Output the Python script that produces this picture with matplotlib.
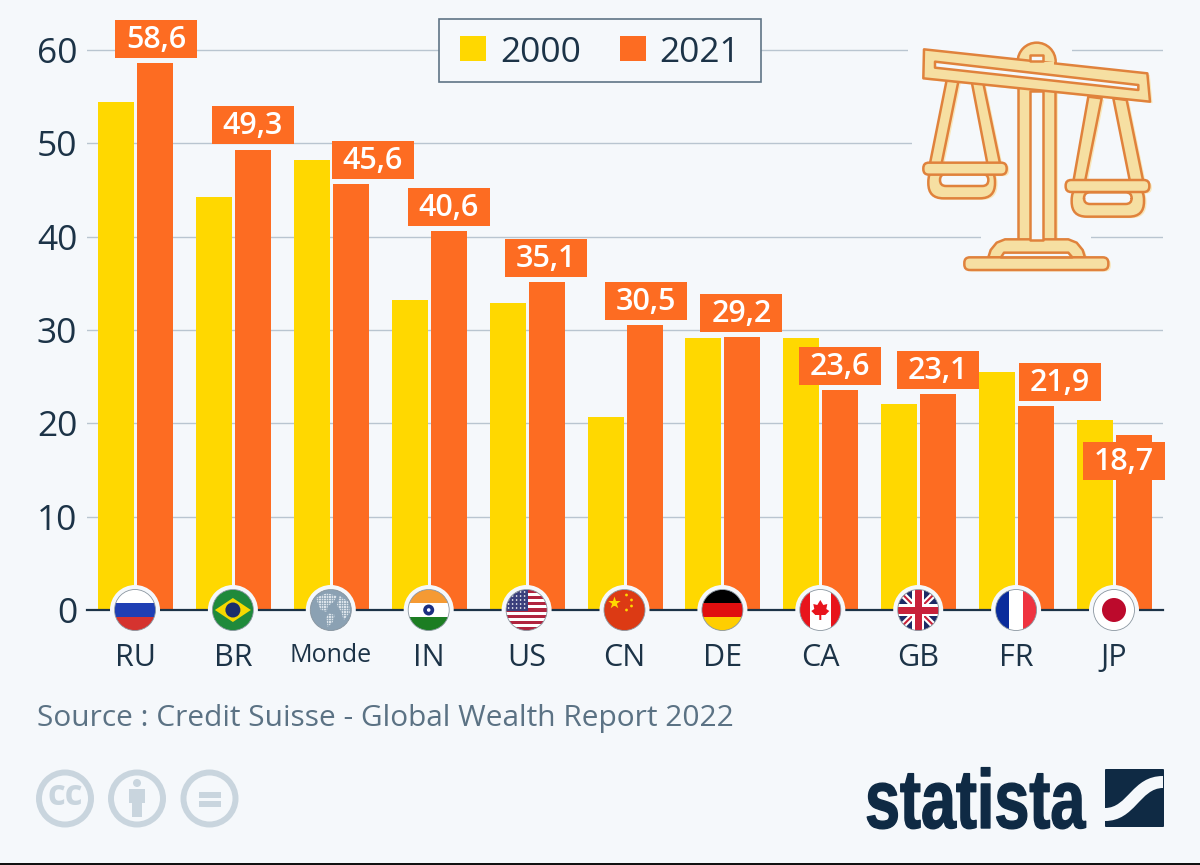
import numpy as np
import matplotlib
matplotlib.use("Agg")
import matplotlib.pyplot as plt
from matplotlib.patches import Rectangle, Circle, Polygon, FancyBboxPatch, PathPatch
from matplotlib.path import Path
from matplotlib.patheffects import AbstractPathEffect
from matplotlib.transforms import Affine2D

# --- DATA ---
categories = ["RU", "BR", "Monde", "IN", "US", "CN", "DE", "CA", "GB", "FR", "JP"]
values_2000 = [54.4, 44.2, 48.2, 33.2, 32.9, 20.7, 29.1, 29.1, 22.1, 25.5, 20.4]
values_2021 = [58.6, 49.3, 45.6, 40.6, 35.1, 30.5, 29.2, 23.6, 23.1, 21.9, 18.7]
yticks = [0, 10, 20, 30, 40, 50, 60]
series_names = ["2000", "2021"]
source_text = "Source : Credit Suisse - Global Wealth Report 2022"

# label shifts in pixels (the labels dodge the neighbouring bars)
label_dx = [1, 0, 22, 0, -1, 1, -1, 0, 0, 24, -10]
label_dy = [5, 6, 5, 5, 5, 5, 5, 5, 5, 5, -45]

# --- STYLE ---
BG = "#f5f8fb"
YELLOW = "#ffd800"
ORANGE = "#fd6c22"
DARK = "#1c3347"
GRID = "#b9c5d0"
SOURCE = "#5b7284"
NAVY = "#0f2a44"
CC = "#c9d5de"
PALE = "#f6dfa2"
LINE = "#e0823c"
plt.rcParams["font.family"] = ["Open Sans", "DejaVu Sans"]

fig = plt.figure(figsize=(12, 8.65), dpi=100, facecolor=BG)
PX_X, PX_Y = 97.9, 560 / 60.0
ax = fig.add_axes([87 / 1200, (865 - 610) / 865, 1076 / 1200, 590 / 865], facecolor="none")
ax.set_xlim((87 - 135) / PX_X, (1163 - 135) / PX_X)
ax.set_ylim(0, 590 / PX_Y)

x = np.arange(len(categories))
ax.bar(x - 19 / PX_X, values_2000, width=36 / PX_X, color=YELLOW, zorder=2)
ax.bar(x + 20 / PX_X, values_2021, width=36 / PX_X, color=ORANGE, zorder=2)

for i, v in enumerate(values_2021):
    cx = i + (20 + label_dx[i]) / PX_X
    bottom = v + label_dy[i] / PX_Y
    h = 38 / PX_Y
    ax.add_patch(Rectangle((cx - 41 / PX_X, bottom), 82 / PX_X, h, color=ORANGE, zorder=4, clip_on=False, lw=0))
    ax.text(cx, bottom + h / 2 - 0.1, f"{v:.1f}".replace(".", ","), color="white", fontsize=22,
            fontweight="semibold", ha="center", va="center", zorder=5)

ax.set_yticks(yticks)
ax.set_xticks(x)
ax.set_xticklabels(categories)
ax.tick_params(axis="y", length=0, labelsize=25.5, labelcolor=DARK, pad=7)
ax.tick_params(axis="x", length=0, labelsize=22, labelcolor=DARK, pad=24)
ax.get_xticklabels()[2].set_fontsize(18)
ax.grid(axis="y", color=GRID, lw=1.0, zorder=1)
ax.set_axisbelow(True)
for s in ["top", "right", "left"]:
    ax.spines[s].set_visible(False)
ax.spines["bottom"].set_color(DARK)
ax.spines["bottom"].set_linewidth(1.6)
ax.spines["bottom"].set_zorder(3)

# --- OVERLAY IN PIXELS ---
ov = fig.add_axes([0, 0, 1, 1], facecolor="none", zorder=5)
ov.set_xlim(0, 1200)
ov.set_ylim(865, 0)
ov.axis("off")

# legend
ov.add_patch(Rectangle((438.5, 18.5), 322, 63, fc=BG, ec="#5f7486", lw=1.2))
ov.add_patch(Rectangle((460, 36), 26, 25, fc=YELLOW, lw=0))
ov.add_patch(Rectangle((620, 36), 26, 25, fc=ORANGE, lw=0))
ov.text(500, 49, series_names[0], fontsize=25.5, color=DARK, va="center_baseline")
ov.text(659, 49, series_names[1], fontsize=25.5, color=DARK, va="center_baseline")

# gridline gaps around the scales icon
for gx0, gx1, gy in [(908, 1072, 50), (912, 1170, 143), (981, 1091, 237)]:
    ov.add_patch(Rectangle((gx0, gy - 4), gx1 - gx0, 8, fc=BG, lw=0))


def shape(pts, fc=PALE, z=6):
    # zoomed crop coordinates to figure pixels
    pts = [(900 + a / 3, 20 + b / 3) for a, b in pts]
    if fc == PALE:
        ov.add_patch(Polygon([(a + 2.5, b + 1.5) for a, b in pts], closed=True, fc="#f8e7bc", lw=0, zorder=5))
    ov.add_patch(Polygon(pts, closed=True, fc=fc, ec=LINE, lw=1.8, joinstyle="round", zorder=z))


def rbox(a0, b0, a1, b1, r=8, fc=PALE, z=6):
    xy = (900 + a0 / 3 + r, 20 + b0 / 3 + r)
    w, h = (a1 - a0) / 3 - 2 * r, (b1 - b0) / 3 - 2 * r
    if fc == PALE:
        ov.add_patch(FancyBboxPatch((xy[0] + 2.5, xy[1] + 1.5), w, h, boxstyle=f"round,pad={r}", fc="#f8e7bc", lw=0, zorder=5))
    ov.add_patch(FancyBboxPatch(xy, w, h, boxstyle=f"round,pad={r}", fc=fc, ec=LINE, lw=1.8, zorder=z))


# scales: straps, post, beam, pans, foot
shape([(140, 180), (90, 430), (125, 430), (175, 185)])
shape([(215, 185), (262, 430), (300, 430), (250, 190)])
shape([(565, 230), (520, 485), (555, 485), (605, 235)])
shape([(640, 235), (690, 485), (730, 485), (680, 240)])
ov.add_patch(Circle((900 + 410 / 3, 20 + 125 / 3), 19, fc=PALE, ec=LINE, lw=1.8, zorder=6))
shape([(355, 200), (465, 200), (465, 670), (355, 670)])
shape([(72, 88), (742, 160), (750, 245), (70, 175)], z=7)
ov.add_patch(Rectangle((900 + 357 / 3, 20 + 125 / 3), 106 / 3, 70 / 3, fc=PALE, lw=0, zorder=8))
shape([(105, 125), (715, 195), (715, 210), (105, 143)], fc=BG, z=9)
shape([(390, 105), (430, 105), (430, 122), (390, 122)], fc=BG, z=9)
shape([(390, 212), (428, 212), (428, 660), (390, 660)], fc=BG, z=9)
rbox(85, 440, 285, 535, 15, z=6)
rbox(120, 462, 265, 498, 6, fc=BG, z=7)
rbox(70, 428, 320, 464, 5.5, z=8)
rbox(515, 495, 732, 590, 15, z=6)
rbox(552, 517, 695, 552, 6, fc=BG, z=7)
rbox(497, 480, 748, 516, 5.5, z=8)
shape([(265, 712), (272, 690), (290, 668), (315, 658), (505, 658), (530, 668), (548, 690), (555, 712)])
rbox(193, 712, 625, 750, 5.5, z=7)
shape([(303, 712), (312, 698), (505, 698), (517, 712)], fc=BG, z=8)


# --- FLAGS ---
def flag(i, draw):
    cx, cy, r = 135 + i * PX_X, 610, 20.5
    ov.add_patch(Circle((cx, cy), 25, fc=BG, lw=0, zorder=10))
    clip = Circle((cx, cy), r, transform=ov.transData)
    for p in draw(cx, cy, r):
        p.set_zorder(11)
        p.set_clip_path(clip)
        ov.add_artist(p)
    ov.add_patch(Circle((cx, cy), r, fc="none", ec="#8a96a0", lw=0.6, zorder=12))


def rect(x0, y0, w, h, c):
    return Rectangle((x0, y0), w, h, fc=c, lw=0)


def hstripes(cols):
    def d(cx, cy, r):
        n = len(cols)
        return [rect(cx - r, cy - r + k * 2 * r / n, 2 * r, 2 * r / n + 0.3, c) for k, c in enumerate(cols)]
    return d


def vstripes(cols):
    def d(cx, cy, r):
        n = len(cols)
        return [rect(cx - r + k * 2 * r / n, cy - r, 2 * r / n + 0.3, 2 * r, c) for k, c in enumerate(cols)]
    return d


def brazil(cx, cy, r):
    return [rect(cx - r, cy - r, 2 * r, 2 * r, "#1f8a3b"),
            Polygon([(cx - 18, cy), (cx, cy - 12), (cx + 18, cy), (cx, cy + 12)], fc="#f5d900", lw=0),
            Circle((cx, cy), 7.5, fc="#1c2f6b", lw=0)]


def globe(cx, cy, r):
    land = "#dbe3ea"
    out = [rect(cx - r, cy - r, 2 * r, 2 * r, "#8ba1b3")]
    for pts in [[(-15, -12), (-4, -17), (6, -14), (3, -8), (-3, -4), (-4, 2), (-10, 0)],
                [(-2, 3), (4, 5), (2, 12), (-3, 17), (-5, 8)],
                [(9, -14), (18, -8), (19, 3), (13, 10), (10, 1), (6, -5)]]:
        out.append(Polygon([(cx + a, cy + b) for a, b in pts], fc=land, lw=0))
    # wire mesh over the land
    for d in np.arange(-20, 21, 2.5):
        out.append(plt.Line2D([cx + d, cx + d], [cy - r, cy + r], color="#8ba1b3", lw=0.5))
        out.append(plt.Line2D([cx - r, cx + r], [cy + d, cy + d], color="#8ba1b3", lw=0.5))
    return out


def india(cx, cy, r):
    return hstripes(["#f59a33", "#ffffff", "#1c7d22"])(cx, cy, r) + [Circle((cx, cy), 5.5, fc="#1c2f80", lw=0),
                                                                  Circle((cx, cy), 1.8, fc="#ffffff", lw=0)]


def usa(cx, cy, r):
    cols = ["#b0243f", "#ffffff"] * 6 + ["#b0243f"]
    out = hstripes(cols)(cx, cy, r)
    out.append(rect(cx - r, cy - r, r + 1, r + 1, "#3b3f7c"))
    for a in range(5):
        for b in range(5):
            out.append(Circle((cx - r + 2.5 + a * 4, cy - r + 2.5 + b * 4), 0.8, fc="white", lw=0))
    return out


def china(cx, cy, r):
    out = [rect(cx - r, cy - r, 2 * r, 2 * r, "#dc3a14")]
    t = np.pi / 2 + np.arange(5) * 4 * np.pi / 5
    out.append(Polygon([(cx - 10 + 6.5 * np.cos(a), cy - 7 - 6.5 * np.sin(a)) for a in t], fc="#ffd800", lw=0))
    for dx, dy in [(2, -15), (7, -10), (7, -4), (2, 0)]:
        out.append(Circle((cx + dx, cy + dy), 1.4, fc="#ffd800", lw=0))
    return out


def canada(cx, cy, r):
    return vstripes(["#e8141c", "#ffffff", "#ffffff", "#e8141c"])(cx, cy, r) + [
        Polygon([(cx, cy - 10), (cx + 3, cy - 5), (cx + 7, cy - 6), (cx + 6, cy - 1), (cx + 9, cy + 1), (cx + 5, cy + 5),
                 (cx + 1, cy + 5), (cx + 1, cy + 10), (cx - 1, cy + 10), (cx - 1, cy + 5), (cx - 5, cy + 5),
                 (cx - 9, cy + 1), (cx - 6, cy - 1), (cx - 7, cy - 6), (cx - 3, cy - 5)], fc="#e8141c", lw=0)]


def uk(cx, cy, r):
    out = [rect(cx - r, cy - r, 2 * r, 2 * r, "#1d2a66")]
    for a, b, c, d in [(-r, -r, r, r), (-r, r, r, -r)]:
        out.append(plt.Line2D([cx + a, cx + c], [cy + b, cy + d], color="white", lw=4.5))
        out.append(plt.Line2D([cx + a, cx + c], [cy + b, cy + d], color="#c8203a", lw=1.5))
    out += [rect(cx - 6, cy - r, 12, 2 * r, "white"), rect(cx - r, cy - 6, 2 * r, 12, "white"),
            rect(cx - 3.5, cy - r, 7, 2 * r, "#c8203a"), rect(cx - r, cy - 3.5, 2 * r, 7, "#c8203a")]
    return out


def japan(cx, cy, r):
    return [rect(cx - r, cy - r, 2 * r, 2 * r, "white"), Circle((cx, cy), 12, fc="#bc0a2c", lw=0)]


flag_draw = [hstripes(["#ffffff", "#1f3fb4", "#d5332f"]), brazil, globe, india, usa, china,
             hstripes(["#000000", "#e00f0f", "#ffce00"]), canada, uk, vstripes(["#0a2c9c", "#ffffff", "#ef3340"]), japan]
for i, d in enumerate(flag_draw):
    flag(i, d)

# --- FOOTER ---
ov.text(37, 715, source_text, fontsize=21.5, color=SOURCE, va="center_baseline")

for cx in [65, 137, 209.5]:
    ov.add_patch(Circle((cx, 798.5), 26, fc="none", ec=CC, lw=4.3))
ov.text(65, 796, "cc", fontsize=25, fontweight="bold", color=CC, ha="center", va="center")
ov.add_patch(Circle((137, 783), 4, fc=CC, lw=0))
ov.add_patch(Rectangle((129, 789), 16, 14, fc=CC, lw=0))
ov.add_patch(Rectangle((132, 803), 10, 14, fc=CC, lw=0))
ov.add_patch(Rectangle((199, 792), 22, 6, fc=CC, lw=0))
ov.add_patch(Rectangle((199, 801), 22, 5.5, fc=CC, lw=0))


class Squeeze(AbstractPathEffect):
    # no condensed bold font is installed, so narrow the wordmark around its left edge
    def draw_path(self, renderer, gc, tpath, affine, rgbFace):
        gc0 = renderer.new_gc()
        gc0.copy_properties(gc)
        gc0.set_linewidth(1.0)
        gc0.set_foreground(NAVY)
        squeeze = Affine2D().translate(-865, 0).scale(0.755, 1).translate(865, 0)
        renderer.draw_path(gc0, tpath, affine + squeeze, rgbFace)
        gc0.restore()


ov.text(865, 828, "statista", fontsize=60, fontweight="bold", family=["Liberation Sans"], color=NAVY,
        va="baseline", path_effects=[Squeeze()])

# statista mark: square with a white swoosh
ov.add_patch(FancyBboxPatch((1106, 770), 57, 56, boxstyle="round,pad=1", fc=NAVY, lw=0))
swoosh = Path([(1105, 808), (1128, 808), (1132, 776), (1163, 776),
               (1163, 788), (1140, 788), (1135, 821), (1105, 821), (1105, 808)],
              [Path.MOVETO, Path.CURVE4, Path.CURVE4, Path.CURVE4, Path.LINETO,
               Path.CURVE4, Path.CURVE4, Path.CURVE4, Path.CLOSEPOLY])
ov.add_patch(PathPatch(swoosh, fc=BG, lw=0))

# black rule along the bottom edge
ov.add_patch(Rectangle((0, 863), 1200, 2, fc="#111111", lw=0))

fig.savefig("out.png", dpi=100, facecolor=BG)
